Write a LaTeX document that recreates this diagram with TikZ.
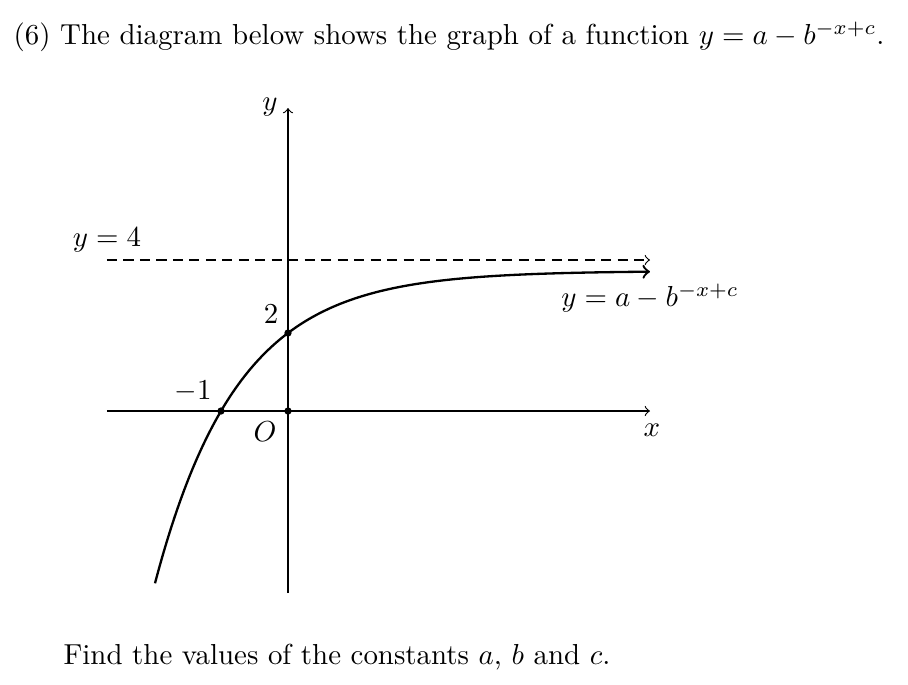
\documentclass[tikz,border=0pt]{standalone}
\usepackage{amssymb,amsmath}
\usepackage{tikz}
\usetikzlibrary{arrows}

\begin{document}
\begin{tikzpicture}[x=0.346pt,y=0.346pt]
\tikzstyle{pnt}=[draw,fill,shape=circle,inner sep=0pt,minimum size=2.1pt];
\tikzstyle{lbl}=[inner sep=0pt];
\useasboundingbox (-288,-273) rectangle (620,411);
% axes
\coordinate (xl) at (-181,0);
\coordinate (xr) at (362,0);
\coordinate (yb) at (0,-182);
\coordinate (yt) at (0,303);
\coordinate (al) at (-181,151);
\coordinate (ar) at (362,151);
\draw [->] (xl) -- (xr);
\draw [->] (yb) -- (yt);
\draw [dash pattern=on 3.5pt off 2.2pt,->] (al) -- (ar);
% curve
\draw [thick,->] plot[domain=-133:362,samples=120,smooth] (\x,{140.1-62.1*exp(-0.01214*\x)});
\node [pnt](o) at (0,0) {};
\node [pnt](p1) at (-67,0) {};
\node [pnt](p2) at (0,78) {};
% labels
\node [lbl](ly) at (-18,304) {$y$};
\node [lbl](lx) at (364,-19) {$x$};
\node [lbl](lo) at (-23,-21) {$O$};
\node [lbl](l2) at (-17,97) {$2$};
\node [lbl](l1) at (-95,20) {$-1$};
\node [lbl](l4) at (-181,171) {$y=4$};
\node [lbl](lf) at (362,113) {$y=a-b^{-x+c}$};
\node [lbl](title) at (161,374) {(6) The diagram below shows the graph of a function $y=a-b^{-x+c}$.};
\node [lbl](task) at (49,-246) {Find the values of the constants $a$, $b$ and $c$.};
\end{tikzpicture}
\end{document}
